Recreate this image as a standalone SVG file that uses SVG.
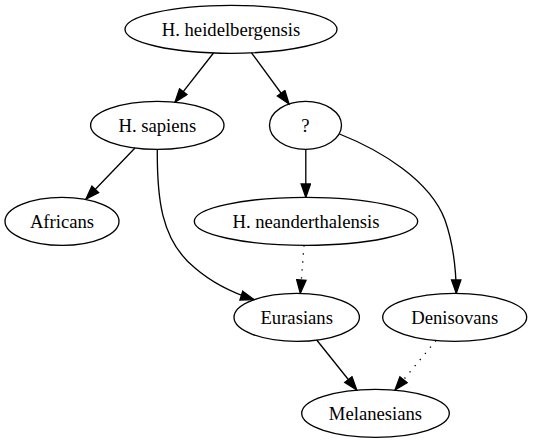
<svg xmlns="http://www.w3.org/2000/svg" width="533" height="443" viewBox="0 0 533 443">
<style>
.node ellipse{fill:none;stroke:#000;stroke-width:1.33}
.node text{font-family:"Liberation Serif","Times New Roman",serif;font-size:18.67px;text-anchor:middle;fill:#000}
.edge{fill:none;stroke:#000;stroke-width:1.33}
.dot{stroke-dasharray:1.33,6.67}
</style>
<defs>
<marker id="ah" viewBox="-1 -1 15.5 11.5" refX="13.33" refY="4.67" markerWidth="15.5" markerHeight="11.5" markerUnits="userSpaceOnUse" orient="auto">
<path d="M0,0 L13.33,4.67 L0,9.33 Z" fill="#000" stroke="#000" stroke-width="1.33" stroke-dasharray="none"/>
</marker>
</defs>
<rect width="533" height="443" fill="#fff"/>
<g id="edges">
<path class="edge" marker-end="url(#ah)" d="M213.5,53 L175,102.2"/>
<path class="edge" marker-end="url(#ah)" d="M251.5,52.8 L289,104"/>
<path class="edge" marker-end="url(#ah)" d="M135,148 L86,199"/>
<path class="edge" marker-end="url(#ah)" d="M157.3,149.5 C157,195 160,240 195,268 C210,281 230,292 254,299.7"/>
<path class="edge" marker-end="url(#ah)" d="M305.8,149.3 L305.8,197.3"/>
<path class="edge" marker-end="url(#ah)" d="M339.5,134 C380,150 430,180 445,220 C452,240 456,262 456.3,293.3"/>
<path class="edge dot" marker-end="url(#ah)" d="M304,245.3 L300.3,293.3"/>
<path class="edge" marker-end="url(#ah)" d="M316.7,340 L356.7,390"/>
<path class="edge dot" marker-end="url(#ah)" d="M436,340.5 L395,390"/>
</g>
<g id="heidelbergensis" class="node"><ellipse cx="231" cy="29.3" rx="106" ry="24"/><text x="231" y="35.5">H. heidelbergensis</text></g>
<g id="sapiens" class="node"><ellipse cx="157.3" cy="125.3" rx="66.7" ry="24"/><text x="157.3" y="131.5">H. sapiens</text></g>
<g id="unknown" class="node"><ellipse cx="305.5" cy="125.3" rx="36" ry="24"/><text x="305.5" y="131.5">?</text></g>
<g id="africans" class="node"><ellipse cx="62" cy="221.3" rx="57" ry="24"/><text x="62" y="227.5">Africans</text></g>
<g id="neanderthalensis" class="node"><ellipse cx="306" cy="221.3" rx="111.7" ry="24"/><text x="306" y="227.5">H. neanderthalensis</text></g>
<g id="eurasians" class="node"><ellipse cx="296.7" cy="317.3" rx="62.7" ry="24"/><text x="296.7" y="323.5">Eurasians</text></g>
<g id="denisovans" class="node"><ellipse cx="454.7" cy="317.3" rx="72" ry="24"/><text x="454.7" y="323.5">Denisovans</text></g>
<g id="melanesians" class="node"><ellipse cx="375.5" cy="413.3" rx="73.8" ry="24"/><text x="375.5" y="419.5">Melanesians</text></g>
</svg>
